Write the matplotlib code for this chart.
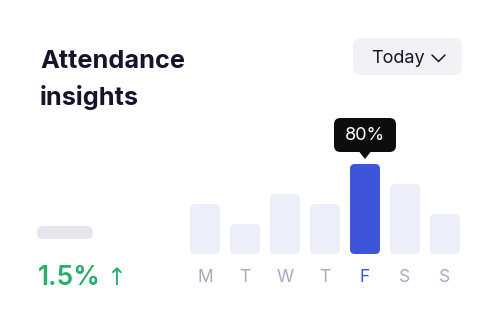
import matplotlib
matplotlib.use('Agg')
import matplotlib.pyplot as plt
from matplotlib.patches import FancyBboxPatch, Polygon

# data
days = ['M', 'T', 'W', 'T', 'F', 'S', 'S']
heights = [50, 30, 60, 50, 90, 70, 40]   # relative bar heights
active = 4
tooltip = '80%'
title = 'Attendance\ninsights'
period = 'Today'
change = '1.5%'

W, H = 500, 327
FONT = ['Inter', 'DejaVu Sans']
DARK = '#15142b'
BAR = '#eceef9'
BAR_ON = '#3f55d9'
LBL = '#a9a8c2'
GREEN = '#27ae6b'

fig = plt.figure(figsize=(W / 100, H / 100), dpi=100)
fig.patch.set_facecolor('white')

# overlay axes in pixel coordinates (y down)
ov = fig.add_axes([0, 0, 1, 1])
ov.set_xlim(0, W); ov.set_ylim(H, 0); ov.axis('off')

ov.text(40, 68, 'Attendance', fontsize=18.2, fontweight='bold', color=DARK,
        family=FONT, va='baseline', ha='left')
ov.text(40, 105, 'insights', fontsize=18.2, fontweight='bold', color=DARK,
        family=FONT, va='baseline', ha='left')

# period selector
ov.add_patch(FancyBboxPatch((353, 38), 109, 37, boxstyle='round,pad=0,rounding_size=8',
                            fc='#f1f2f6', ec='none'))
ov.text(371, 63, period, fontsize=13, color=DARK, family=FONT, va='baseline', ha='left')
ov.plot([432, 438.5, 445], [55, 61.5, 55], color=DARK, lw=1.1, solid_capstyle='round',
        solid_joinstyle='round')

# placeholder pill + change
ov.add_patch(FancyBboxPatch((37, 226), 56, 13, boxstyle='round,pad=0,rounding_size=6.5',
                            fc='#e5e5ec', ec='none'))
ov.text(38, 285, change, fontsize=19, fontweight='semibold', color=GREEN, family=FONT,
        va='baseline', ha='left')
ov.text(106, 285, '\u2191', fontsize=17, color=GREEN, family=['DejaVu Sans'],
        va='baseline', ha='left')

# bar axes: 40 px per slot, 1 unit per px vertically, baseline at y=254 px
x0, slot, base, top = 185, 40, 254, 154
ax = fig.add_axes([x0 / W, (H - base) / H, len(days) * slot / W, (base - top) / H])
ax.set_xlim(-0.5, len(days) - 0.5); ax.set_ylim(0, base - top)
ax.axis('off')

bw = 0.75
aspect = slot  # y-units per x-unit in pixels
for i, h in enumerate(heights):
    c = BAR_ON if i == active else BAR
    ax.add_patch(FancyBboxPatch((i - bw / 2, 0), bw, h,
                                boxstyle='round,pad=0,rounding_size=0.12',
                                mutation_aspect=aspect, fc=c, ec='none', clip_on=False))
    ax.text(i, -23, days[i], ha='center', va='center', fontsize=12.5,
            color=BAR_ON if i == active else LBL, family=FONT, clip_on=False)

# tooltip above the active bar
h = heights[active]
tw = 62 / slot
ax.add_patch(FancyBboxPatch((active - tw / 2, h + 12), tw, 34,
                            boxstyle='round,pad=0,rounding_size=0.16',
                            mutation_aspect=aspect, fc='#0d0d0f', ec='none', clip_on=False))
ax.add_patch(Polygon([(active - 0.15, h + 12.5), (active + 0.15, h + 12.5), (active, h + 5)],
                     closed=True, fc='#0d0d0f', ec='none', clip_on=False))
ax.text(active, h + 29, tooltip, ha='center', va='center', fontsize=13, color='white',
        family=FONT, clip_on=False)

fig.savefig('out.png', dpi=100, facecolor='white')
